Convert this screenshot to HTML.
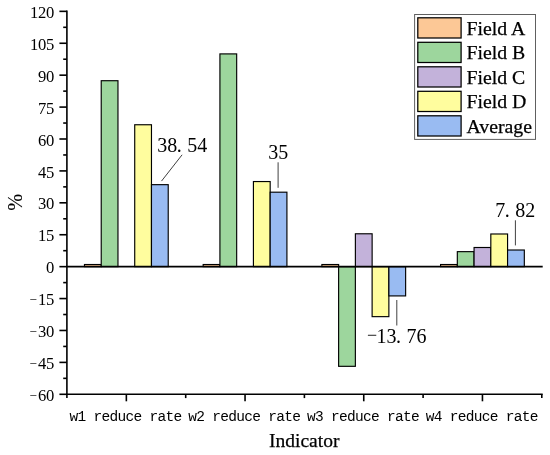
<!DOCTYPE html>
<html><head><meta charset="utf-8"><title>Indicator chart</title>
<style>
html,body{margin:0;padding:0;background:#fff}
svg{display:block}
.ser{font-family:"Liberation Serif","Noto Serif CJK SC",serif;fill:#000;stroke:#000;stroke-width:0.25px}
.num{font-family:"Liberation Serif","Noto Serif CJK SC",serif;fill:#000}
.let{font-family:"Liberation Mono","DejaVu Sans Mono",monospace;fill:#000}
</style></head><body>
<svg width="550" height="455" viewBox="0 0 550 455">
<rect width="550" height="455" fill="#fff"/>
<g stroke="#000" stroke-width="1.15">
<rect x="84.47" y="264.52" width="16.75" height="2.13" fill="#FCC896"/>
<rect x="101.22" y="80.71" width="16.75" height="185.94" fill="#9DD69D"/>
<rect x="134.72" y="124.75" width="16.75" height="141.90" fill="#FFFD9E"/>
<rect x="151.47" y="184.66" width="16.75" height="81.99" fill="#99BBF2"/>
<rect x="203.17" y="264.52" width="16.75" height="2.13" fill="#FCC896"/>
<rect x="219.92" y="53.90" width="16.75" height="212.75" fill="#9DD69D"/>
<rect x="253.42" y="181.55" width="16.75" height="85.10" fill="#FFFD9E"/>
<rect x="270.17" y="192.19" width="16.75" height="74.46" fill="#99BBF2"/>
<rect x="321.88" y="264.52" width="16.75" height="2.13" fill="#FCC896"/>
<rect x="338.62" y="266.65" width="16.75" height="99.67" fill="#9DD69D"/>
<rect x="355.38" y="233.78" width="16.75" height="32.87" fill="#C3B2DA"/>
<rect x="372.12" y="266.65" width="16.75" height="50.00" fill="#FFFD9E"/>
<rect x="388.88" y="266.65" width="16.75" height="29.27" fill="#99BBF2"/>
<rect x="440.57" y="264.52" width="16.75" height="2.13" fill="#FCC896"/>
<rect x="457.32" y="251.65" width="16.75" height="15.00" fill="#9DD69D"/>
<rect x="474.07" y="247.50" width="16.75" height="19.15" fill="#C3B2DA"/>
<rect x="490.82" y="233.99" width="16.75" height="32.66" fill="#FFFD9E"/>
<rect x="507.57" y="250.01" width="16.75" height="16.64" fill="#99BBF2"/>
</g>
<g stroke="#000" stroke-width="1.6" fill="none">
<line x1="66.9" y1="10.60" x2="66.9" y2="395.05"/>
<line x1="66.15" y1="394.30" x2="542.7" y2="394.30"/>
<line x1="66.9" y1="266.65" x2="542.7" y2="266.65"/>
<line x1="59.4" y1="11.35" x2="66.9" y2="11.35"/>
<line x1="63.2" y1="27.31" x2="66.9" y2="27.31"/>
<line x1="59.4" y1="43.26" x2="66.9" y2="43.26"/>
<line x1="63.2" y1="59.22" x2="66.9" y2="59.22"/>
<line x1="59.4" y1="75.17" x2="66.9" y2="75.17"/>
<line x1="63.2" y1="91.13" x2="66.9" y2="91.13"/>
<line x1="59.4" y1="107.09" x2="66.9" y2="107.09"/>
<line x1="63.2" y1="123.04" x2="66.9" y2="123.04"/>
<line x1="59.4" y1="139.00" x2="66.9" y2="139.00"/>
<line x1="63.2" y1="154.96" x2="66.9" y2="154.96"/>
<line x1="59.4" y1="170.91" x2="66.9" y2="170.91"/>
<line x1="63.2" y1="186.87" x2="66.9" y2="186.87"/>
<line x1="59.4" y1="202.82" x2="66.9" y2="202.82"/>
<line x1="63.2" y1="218.78" x2="66.9" y2="218.78"/>
<line x1="59.4" y1="234.74" x2="66.9" y2="234.74"/>
<line x1="63.2" y1="250.69" x2="66.9" y2="250.69"/>
<line x1="59.4" y1="266.65" x2="66.9" y2="266.65"/>
<line x1="63.2" y1="282.61" x2="66.9" y2="282.61"/>
<line x1="59.4" y1="298.56" x2="66.9" y2="298.56"/>
<line x1="63.2" y1="314.52" x2="66.9" y2="314.52"/>
<line x1="59.4" y1="330.47" x2="66.9" y2="330.47"/>
<line x1="63.2" y1="346.43" x2="66.9" y2="346.43"/>
<line x1="59.4" y1="362.39" x2="66.9" y2="362.39"/>
<line x1="63.2" y1="378.34" x2="66.9" y2="378.34"/>
<line x1="59.4" y1="394.30" x2="66.9" y2="394.30"/>
<line x1="126.35" y1="394.30" x2="126.35" y2="401.30"/>
<line x1="245.05" y1="394.30" x2="245.05" y2="401.30"/>
<line x1="363.75" y1="394.30" x2="363.75" y2="401.30"/>
<line x1="482.45" y1="394.30" x2="482.45" y2="401.30"/>
<line x1="66.90" y1="394.30" x2="66.90" y2="398.10"/>
<line x1="185.70" y1="394.30" x2="185.70" y2="398.10"/>
<line x1="304.40" y1="394.30" x2="304.40" y2="398.10"/>
<line x1="423.10" y1="394.30" x2="423.10" y2="398.10"/>
<line x1="541.80" y1="394.30" x2="541.80" y2="398.10"/>
</g>
<text class="num" font-size="16.60" text-anchor="middle" x="34.20 42.20 50.20" y="17.95">120</text>
<text class="num" font-size="16.60" text-anchor="middle" x="34.20 42.20 50.20" y="49.86">105</text>
<text class="num" font-size="16.60" text-anchor="middle" x="42.20 50.20" y="81.77">90</text>
<text class="num" font-size="16.60" text-anchor="middle" x="42.20 50.20" y="113.69">75</text>
<text class="num" font-size="16.60" text-anchor="middle" x="42.20 50.20" y="145.60">60</text>
<text class="num" font-size="16.60" text-anchor="middle" x="42.20 50.20" y="177.51">45</text>
<text class="num" font-size="16.60" text-anchor="middle" x="42.20 50.20" y="209.42">30</text>
<text class="num" font-size="16.60" text-anchor="middle" x="42.20 50.20" y="241.34">15</text>
<text class="num" font-size="16.60" text-anchor="middle" x="50.20" y="273.25">0</text>
<text class="num" font-size="16.60" text-anchor="middle" x="33.32 42.20 50.20" y="304.17 305.16 305.16"><tspan font-size="13.28">−</tspan>15</text>
<text class="num" font-size="16.60" text-anchor="middle" x="33.32 42.20 50.20" y="336.08 337.07 337.07"><tspan font-size="13.28">−</tspan>30</text>
<text class="num" font-size="16.60" text-anchor="middle" x="33.32 42.20 50.20" y="367.99 368.99 368.99"><tspan font-size="13.28">−</tspan>45</text>
<text class="num" font-size="16.60" text-anchor="middle" x="33.32 42.20 50.20" y="399.90 400.90 400.90"><tspan font-size="13.28">−</tspan>60</text>
<text class="let" font-size="14.50" text-anchor="middle" x="73.95 81.95 89.95 97.95 105.95 113.95 121.95 129.95 137.95 145.95 153.95 161.95 169.95 177.95" y="420.90">w1 reduce rate</text>
<text class="let" font-size="14.50" text-anchor="middle" x="192.65 200.65 208.65 216.65 224.65 232.65 240.65 248.65 256.65 264.65 272.65 280.65 288.65 296.65" y="420.90">w2 reduce rate</text>
<text class="let" font-size="14.50" text-anchor="middle" x="311.35 319.35 327.35 335.35 343.35 351.35 359.35 367.35 375.35 383.35 391.35 399.35 407.35 415.35" y="420.90">w3 reduce rate</text>
<text class="let" font-size="14.50" text-anchor="middle" x="430.05 438.05 446.05 454.05 462.05 470.05 478.05 486.05 494.05 502.05 510.05 518.05 526.05 534.05" y="420.90">w4 reduce rate</text>
<text class="num" font-size="20.00" text-anchor="middle" x="162.30 172.30 179.30 192.30 202.30" y="151.60">38.54</text>
<text class="num" font-size="20.00" text-anchor="middle" x="273.30 283.30" y="159.40">35</text>
<text class="num" font-size="20.00" text-anchor="middle" x="372.10 381.50 391.50 398.50 411.50 421.50" y="341.30 342.70 342.70 342.70 342.70 342.70"><tspan font-size="18.00">−</tspan>13.76</text>
<text class="num" font-size="20.00" text-anchor="middle" x="500.20 507.20 520.20 530.20" y="216.80">7.82</text>
<g stroke="#404040" stroke-width="1" fill="none">
<line x1="161.5" y1="181.1" x2="182.1" y2="154.8"/>
<line x1="278.1" y1="162.3" x2="278.1" y2="187.8"/>
<line x1="396.8" y1="300" x2="396.8" y2="325.5"/>
<line x1="515.4" y1="220.3" x2="515.4" y2="245.4"/>
</g>
<text class="ser" font-size="19.5" text-anchor="middle" x="304.2" y="447.3">Indicator</text>
<text class="ser" style="stroke-width:0.1px" font-size="20.3" text-anchor="middle" transform="translate(22,202.2) rotate(-90)">%</text>
<rect x="414.6" y="14.5" width="120.9" height="124.9" fill="#fff" stroke="#606060" stroke-width="1"/>
<rect x="417.8" y="17.80" width="43.3" height="20.2" fill="#FCC896" stroke="#000" stroke-width="1.25"/>
<text class="ser" font-size="19.8" x="466.5" y="34.90">Field A</text>
<rect x="417.8" y="42.30" width="43.3" height="20.2" fill="#9DD69D" stroke="#000" stroke-width="1.25"/>
<text class="ser" font-size="19.8" x="466.5" y="59.40">Field B</text>
<rect x="417.8" y="66.80" width="43.3" height="20.2" fill="#C3B2DA" stroke="#000" stroke-width="1.25"/>
<text class="ser" font-size="19.8" x="466.5" y="83.90">Field C</text>
<rect x="417.8" y="91.30" width="43.3" height="20.2" fill="#FFFD9E" stroke="#000" stroke-width="1.25"/>
<text class="ser" font-size="19.8" x="466.5" y="108.40">Field D</text>
<rect x="417.8" y="115.80" width="43.3" height="20.2" fill="#99BBF2" stroke="#000" stroke-width="1.25"/>
<text class="ser" font-size="19.8" x="466.5" y="132.90">Average</text>
</svg></body></html>
